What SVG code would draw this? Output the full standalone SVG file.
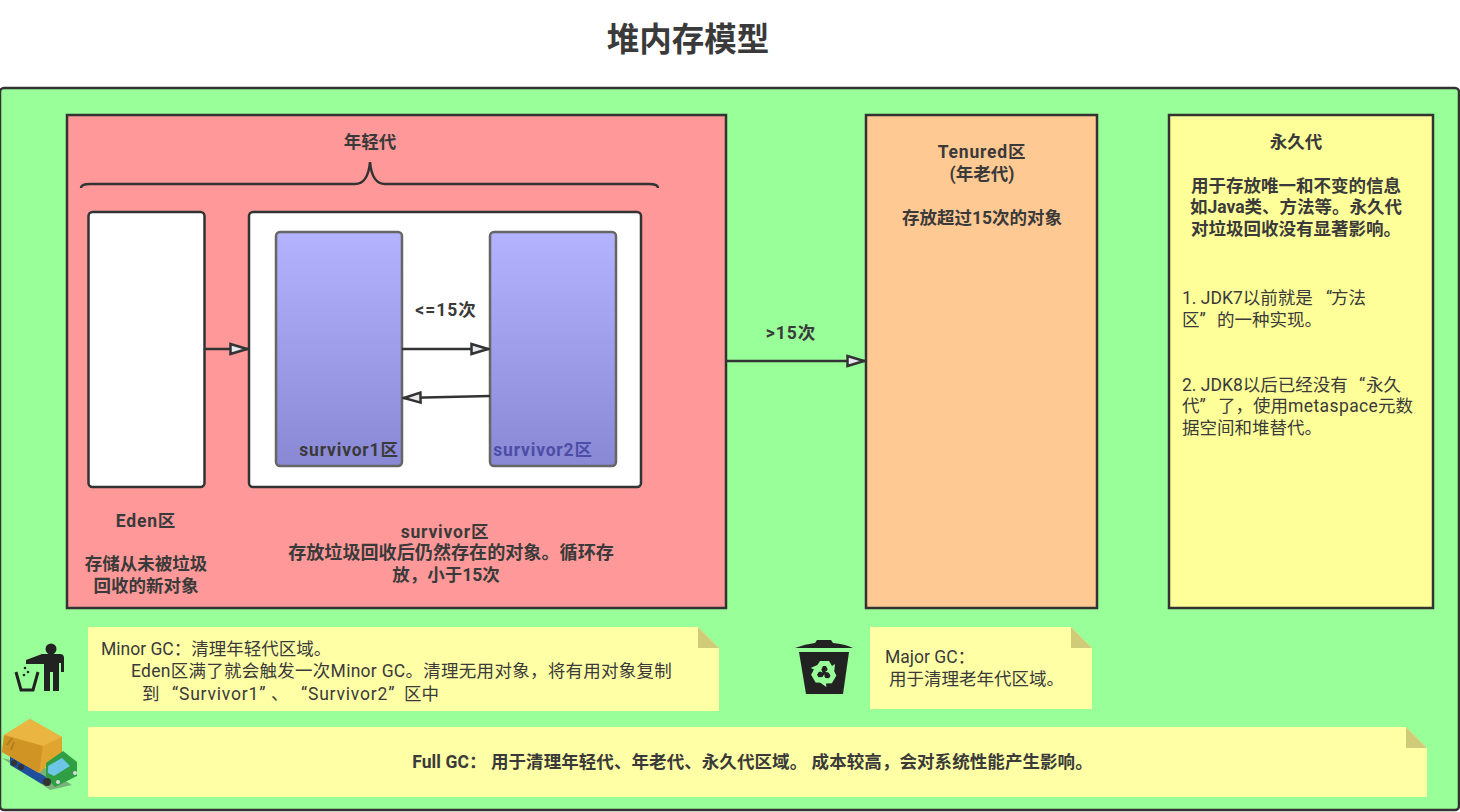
<svg xmlns="http://www.w3.org/2000/svg" width="1460" height="812" viewBox="0 0 1460 812">
<style>
text{font-family:Roboto,"Noto Sans CJK SC",sans-serif;fill:#3a3a3a;font-size:17.500px;text-anchor:middle}
.b{font-weight:700}
.l{text-anchor:start}
.w{letter-spacing:.8px}
.box{stroke:#333;stroke-width:2.500}
.s{fill:url(#g);stroke:#666;stroke-width:2.500}
.note{fill:#ffffa6}
.fold{fill:#cfcb78}
.edge{fill:none;stroke:#333;stroke-width:2.500;marker-end:url(#a)}
</style>
<defs>
<linearGradient id="g" x1="0" y1="0" x2="0" y2="1"><stop offset="0" stop-color="#b3b3ff"/><stop offset="1" stop-color="#8888d4"/></linearGradient>
<marker id="a" viewBox="0 0 20 14" refX="19" refY="7" markerWidth="20" markerHeight="14" markerUnits="userSpaceOnUse" orient="auto"><path d="M1.500 2 L18 7 L1.500 12Z" fill="#e8e8f0" stroke="#333" stroke-width="2.500"/></marker>
<path id="rec" d="M-9 -4 L-4 -12 H5 L8 -7 L11 -9 L10 0 L1 -1 L4 -3 L2 -7 H-1 L-4 -1Z"/>
</defs>
<rect width="1460" height="812" fill="#fff"/>
<text x="688" y="51" class="b" style="font-size:32.500px">堆内存模型</text>
<g id="outer"><rect class="box" x="0" y="88" width="1459" height="722" rx="4" fill="#99ff99"/></g>
<g id="young"><rect class="box" x="67" y="115" width="659" height="493" fill="#ff9999"/>
<text x="370" y="148" class="b">年轻代</text>
<path d="M81 188 Q81 184 90 184 L355 184 Q368 184 370 162 Q372 184 385 184 L649 184 Q658 184 658 188" fill="none" stroke="#333" stroke-width="2.500"/></g>
<g id="eden"><rect class="box" x="88.500" y="212" width="116" height="275" rx="4" fill="#fff"/>
<text class="b"><tspan x="146" y="527" class="w">Eden区</tspan><tspan x="146" y="570">存储从未被垃圾</tspan><tspan x="146" y="592">回收的新对象</tspan></text></g>
<g id="survivor"><rect class="box" x="249" y="212" width="392" height="275" rx="4" fill="#fff"/>
<text class="b"><tspan x="445" y="538" class="w">survivor区</tspan><tspan x="451" y="559" style="font-size:18.100px">存放垃圾回收后仍然存在的对象。循环存</tspan><tspan x="446" y="581">放，小于15次</tspan></text></g>
<g id="survivor1"><rect class="s" x="276" y="232" width="126" height="234" rx="4"/><text x="349" y="456" class="b w">survivor1区</text></g>
<g id="survivor2"><rect class="s" x="490" y="232" width="126" height="234" rx="4"/><text x="543" y="456" class="b w" style="fill:#4d4da6">survivor2区</text></g>
<g id="tenured"><rect class="box" x="866" y="115" width="231" height="493" fill="#ffc993"/>
<text class="b"><tspan x="982" y="158" class="w">Tenured区</tspan><tspan x="982" y="180">(年老代)</tspan><tspan x="982" y="224">存放超过15次的对象</tspan></text></g>
<g id="perm"><rect class="box" x="1169" y="115" width="264" height="493" fill="#ffff99"/>
<text class="b"><tspan x="1296" y="148">永久代</tspan><tspan x="1296" y="192">用于存放唯一和不变的信息</tspan><tspan x="1296" y="213">如Java类、方法等。永久代</tspan><tspan x="1296" y="235">对垃圾回收没有显著影响。</tspan></text>
<text class="l"><tspan x="1182" y="304">1. JDK7以前就是</tspan><tspan x="1326" y="304">“</tspan><tspan x="1331" y="304">方法</tspan><tspan x="1182" y="326">区”</tspan><tspan x="1217" y="326">的一种实现。</tspan></text>
<text class="l"><tspan x="1182" y="391">2. JDK8以后已经没有</tspan><tspan x="1359" y="391">“</tspan><tspan x="1366" y="391">永久</tspan><tspan x="1182" y="412">代”</tspan><tspan x="1218" y="412">了，</tspan><tspan x="1253" y="412">使用</tspan><tspan x="1288" y="412" style="letter-spacing:.4px">metaspace</tspan><tspan x="1378" y="412">元数</tspan><tspan x="1182" y="434">据空间和堆替代。</tspan></text></g>
<g id="connectors">
<path class="edge" d="M205 349 H248"/>
<path class="edge" d="M402 349 H489"/>
<path class="edge" d="M490 396 L403 398"/>
<path class="edge" d="M726 361 H865"/>
<text x="446" y="316" class="b" style="letter-spacing:1px">&lt;=15次</text>
<text x="791" y="339" class="b" style="letter-spacing:1px">&gt;15次</text>
</g>
<g id="minor"><path class="note" d="M88 627 H698 L719 648 V711 H88Z"/><path class="fold" d="M698 627 L719 648 H698Z"/>
<text class="l"><tspan x="101" y="655">Minor GC：清理年轻代区域。</tspan><tspan x="131" y="677" style="letter-spacing:.27px">Eden区满了就会触发一次Minor GC。清理无用对象，将有用对象复制</tspan><tspan x="142" y="700">到</tspan><tspan x="172" y="700" class="w">“Survivor1”</tspan><tspan x="271" y="700">、</tspan><tspan x="301" y="700" class="w">“Survivor2”</tspan><tspan x="404" y="700">区中</tspan></text></g>
<g id="major"><path class="note" d="M870 627 H1071 L1092 648 V709 H870Z"/><path class="fold" d="M1071 627 L1092 648 H1071Z"/>
<text class="l"><tspan x="885" y="663">Major GC：</tspan><tspan x="889" y="685">用于清理老年代区域。</tspan></text></g>
<g id="full"><path class="note" d="M88 727 H1406 L1427 748 V797 H88Z"/><path class="fold" d="M1406 727 L1427 748 H1406Z"/>
<text x="752.500" y="768" class="b" style="letter-spacing:.07px">Full GC： 用于清理年轻代、年老代、永久代区域。 成本较高，会对系统性能产生影响。</text></g>
<g id="icon-person" fill="#222">
<circle cx="51" cy="649" r="5.500"/><path d="M26 660 L42 654 H60 Q64 654 64 658 V672 H61 V663 H59 V691 H53 V672 H50 V691 H44 V664 L26 664Z"/>
<path d="M16 672 L21 690 H33 L38 672" fill="none" stroke="#222" stroke-width="3"/><circle cx="25" cy="668" r="1.300"/><circle cx="28" cy="672" r="1.300"/><circle cx="24" cy="675" r="1.300"/></g>
<g id="icon-bin" fill="#222">
<path d="M795 648 Q805 644 815 643 L817 640 H831 L833 643 Q845 644 853 648Z"/><path d="M799 652 H849 L843 694 H806Z"/>
<g fill="#99ff99"><use href="#rec" transform="translate(824 673)"/><use href="#rec" transform="translate(824 673) rotate(120)"/><use href="#rec" transform="translate(824 673) rotate(240)"/></g></g>
<g id="icon-truck">
<path d="M2 758 L50 790 L72 785 L45 768Z" fill="#6f9f6f" opacity=".8"/>
<path d="M10 755 L46 777 L46 784 L42 784 L10 765Z" fill="#1f4f9a"/>
<path d="M2 752 L4 735 L30 719 L62 737 L62 753 L39 773Z" fill="#e0a52e"/>
<path d="M4 735 L30 719 L62 737 L43 746Z" fill="#eab540"/>
<path d="M2 752 L4 735 L43 746 L39 773Z" fill="#cf9424"/>
<path d="M46 763 L63 751 L77 762 L77 776 L55 787 L46 777Z" fill="#2f9e44"/>
<path d="M48 766 L62 758 L70 766 L54 776 L48 773Z" fill="#6ec6e6"/>
<path d="M7 745 L12 738 M11 750 L14 742" stroke="#a87a1c" stroke-width="1.500"/>
<circle cx="14" cy="763" r="3" fill="#333"/><circle cx="21" cy="767" r="3" fill="#333"/><circle cx="47" cy="782" r="4" fill="#333"/><circle cx="75" cy="773" r="2" fill="#ddd"/><circle cx="58" cy="782" r="2" fill="#ddd"/>
</g>
</svg>
